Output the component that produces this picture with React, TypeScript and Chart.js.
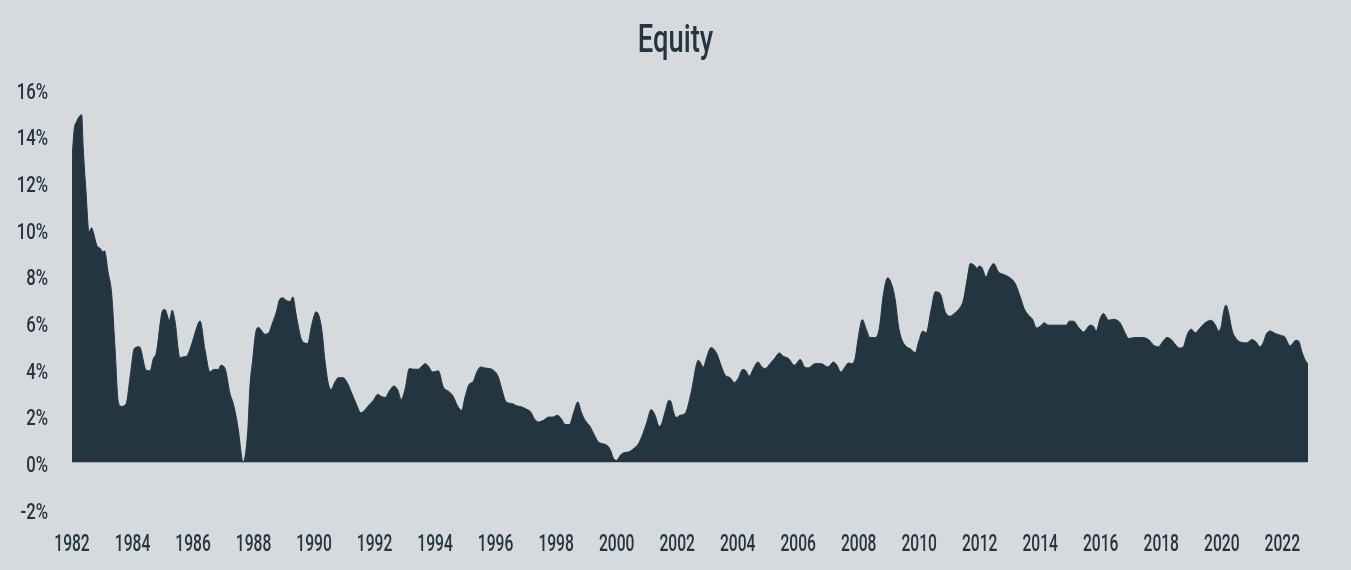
import { useEffect, useRef } from "react"
import { Chart, registerables } from "chart.js"
import type { Plugin } from "chart.js"

Chart.register(...registerables)

const TITLE = "Equity"
const BG = "#d6dadd"
const NAVY = "#233541"
const FONT = "Roboto, 'DejaVu Sans', sans-serif"

// x positions as decimal years
const dates = [
  1982.0, 1982.07, 1982.15, 1982.32, 1982.37, 1982.46, 1982.56, 1982.65, 1982.7, 1982.82,
  1982.93, 1983.03, 1983.07, 1983.2, 1983.31, 1983.42, 1983.53, 1983.64, 1983.79, 1983.92,
  1984.06, 1984.23, 1984.45, 1984.58, 1984.69, 1984.78, 1985.0, 1985.07, 1985.22, 1985.31,
  1985.4, 1985.57, 1985.68, 1985.79, 1985.96, 1986.1, 1986.23, 1986.4, 1986.56, 1986.67,
  1986.84, 1986.92, 1987.06, 1987.22, 1987.33, 1987.5, 1987.58, 1987.65, 1987.81, 1987.88,
  1987.97, 1988.07, 1988.16, 1988.38, 1988.52, 1988.6, 1988.77, 1988.85, 1988.96, 1989.1,
  1989.21, 1989.3, 1989.41, 1989.57, 1989.68, 1989.79, 1989.92, 1990.07, 1990.25, 1990.36,
  1990.47, 1990.56, 1990.69, 1990.8, 1990.97, 1991.11, 1991.25, 1991.39, 1991.55, 1991.69,
  1991.83, 1991.96, 1992.11, 1992.21, 1992.35, 1992.49, 1992.64, 1992.77, 1992.88, 1993.01,
  1993.15, 1993.28, 1993.45, 1993.56, 1993.67, 1993.78, 1993.92, 1994.11, 1994.27, 1994.44,
  1994.58, 1994.75, 1994.88, 1994.99, 1995.13, 1995.25, 1995.38, 1995.51, 1995.65, 1995.8,
  1995.93, 1996.09, 1996.2, 1996.35, 1996.54, 1996.7, 1996.87, 1997.03, 1997.16, 1997.28,
  1997.41, 1997.58, 1997.75, 1997.89, 1998.04, 1998.17, 1998.3, 1998.44, 1998.57, 1998.72,
  1998.83, 1998.96, 1999.12, 1999.27, 1999.4, 1999.54, 1999.68, 1999.79, 1999.9, 2000.01,
  2000.12, 2000.26, 2000.39, 2000.56, 2000.72, 2000.87, 2001.0, 2001.14, 2001.27, 2001.41,
  2001.49, 2001.6, 2001.73, 2001.8, 2001.88, 2001.97, 2002.1, 2002.26, 2002.43, 2002.54,
  2002.62, 2002.7, 2002.87, 2002.98, 2003.12, 2003.31, 2003.45, 2003.59, 2003.75, 2003.89,
  2004.03, 2004.16, 2004.25, 2004.39, 2004.52, 2004.67, 2004.8, 2004.91, 2005.07, 2005.22,
  2005.38, 2005.51, 2005.68, 2005.88, 2006.07, 2006.21, 2006.34, 2006.56, 2006.76, 2006.98,
  2007.17, 2007.28, 2007.41, 2007.55, 2007.66, 2007.77, 2007.88, 2007.99, 2008.12, 2008.24,
  2008.38, 2008.55, 2008.68, 2008.82, 2008.96, 2009.1, 2009.21, 2009.32, 2009.43, 2009.59,
  2009.72, 2009.87, 2009.98, 2010.12, 2010.23, 2010.39, 2010.53, 2010.69, 2010.86, 2011.02,
  2011.13, 2011.3, 2011.46, 2011.58, 2011.69, 2011.82, 2011.91, 2011.98, 2012.07, 2012.21,
  2012.32, 2012.46, 2012.62, 2012.79, 2012.95, 2013.17, 2013.34, 2013.47, 2013.61, 2013.75,
  2013.87, 2014.0, 2014.13, 2014.27, 2014.55, 2014.86, 2014.96, 2015.1, 2015.27, 2015.43,
  2015.65, 2015.76, 2015.85, 2015.98, 2016.09, 2016.26, 2016.42, 2016.64, 2016.79, 2016.92,
  2017.14, 2017.36, 2017.58, 2017.75, 2017.91, 2018.04, 2018.19, 2018.33, 2018.46, 2018.6,
  2018.74, 2018.85, 2018.99, 2019.12, 2019.27, 2019.45, 2019.65, 2019.79, 2019.9, 2019.98,
  2020.06, 2020.14, 2020.22, 2020.34, 2020.47, 2020.61, 2020.83, 2020.99, 2021.13, 2021.27,
  2021.38, 2021.47, 2021.6, 2021.77, 2021.93, 2022.08, 2022.26, 2022.45, 2022.54, 2022.65,
  2022.76, 2022.85,
]

// equity value in percent, same order as dates
const equityPct = [
  13.0, 14.24, 14.6, 14.9, 13.5, 11.67, 9.88, 10.05, 9.88, 9.3,
  9.17, 9.02, 9.07, 8.1, 7.24, 4.95, 2.59, 2.4, 2.52, 3.66,
  4.88, 4.95, 3.95, 3.92, 4.45, 4.66, 6.52, 6.55, 6.09, 6.52,
  6.09, 4.48, 4.52, 4.55, 5.09, 5.69, 6.06, 4.8, 3.87, 3.98,
  3.98, 4.16, 4.02, 2.95, 2.52, 1.37, 0.51, 0.0, 1.37, 3.23,
  4.38, 5.55, 5.78, 5.49, 5.59, 5.88, 6.52, 6.95, 7.05, 6.92,
  6.9, 7.09, 6.31, 5.31, 5.12, 5.09, 5.88, 6.45, 5.74, 4.38,
  3.38, 3.12, 3.44, 3.63, 3.62, 3.38, 2.95, 2.52, 2.12, 2.26,
  2.48, 2.66, 2.92, 2.83, 2.78, 3.06, 3.27, 3.09, 2.69, 3.16,
  4.02, 3.99, 3.99, 4.12, 4.23, 4.12, 3.87, 3.92, 3.23, 3.05,
  2.87, 2.4, 2.23, 2.8, 3.35, 3.44, 3.87, 4.09, 4.04, 4.02,
  3.95, 3.66, 3.16, 2.59, 2.52, 2.42, 2.37, 2.27, 2.16, 1.87,
  1.73, 1.8, 1.94, 1.94, 2.02, 1.87, 1.62, 1.62, 2.09, 2.59,
  2.16, 1.8, 1.54, 1.16, 0.87, 0.8, 0.73, 0.54, 0.16, 0.09,
  0.3, 0.42, 0.44, 0.59, 0.8, 1.23, 1.73, 2.26, 2.02, 1.54,
  1.66, 2.16, 2.66, 2.59, 2.16, 1.92, 2.02, 2.09, 2.8, 3.52,
  4.1, 4.38, 4.09, 4.52, 4.92, 4.66, 4.16, 3.73, 3.63, 3.42,
  3.63, 3.98, 3.95, 3.7, 4.02, 4.3, 4.09, 4.02, 4.23, 4.45,
  4.69, 4.55, 4.45, 4.16, 4.41, 4.09, 4.05, 4.23, 4.23, 4.09,
  4.3, 4.16, 3.87, 4.09, 4.26, 4.23, 4.45, 5.38, 6.12, 5.74,
  5.35, 5.35, 5.74, 7.24, 7.91, 7.59, 6.95, 5.81, 5.25, 4.95,
  4.85, 4.7, 5.16, 5.63, 5.55, 6.52, 7.31, 7.24, 6.45, 6.26,
  6.35, 6.55, 6.95, 7.81, 8.52, 8.45, 8.31, 8.41, 8.35, 7.95,
  8.27, 8.52, 8.16, 8.05, 7.95, 7.67, 7.09, 6.59, 6.31, 6.12,
  5.76, 5.83, 5.98, 5.88, 5.88, 5.88, 6.05, 6.05, 5.78, 5.59,
  5.88, 5.83, 5.63, 6.16, 6.38, 6.09, 6.13, 5.98, 5.59, 5.31,
  5.35, 5.35, 5.26, 5.02, 4.95, 5.16, 5.35, 5.26, 5.06, 4.9,
  4.98, 5.45, 5.71, 5.55, 5.74, 5.98, 6.09, 5.88, 5.63, 5.81,
  6.45, 6.74, 6.45, 5.66, 5.31, 5.16, 5.12, 5.26, 5.16, 4.95,
  5.16, 5.49, 5.63, 5.52, 5.45, 5.38, 4.99, 5.23, 5.2, 4.73,
  4.38, 4.23,
]

const yearTicks = [
  1982, 1984, 1986, 1988, 1990, 1992, 1994, 1996, 1998, 2000, 2002,
  2004, 2006, 2008, 2010, 2012, 2014, 2016, 2018, 2020, 2022,
]

// no condensed face is installed, so squeeze the text horizontally
function drawNarrow(ctx: CanvasRenderingContext2D, text: string, x: number, y: number, squeeze: number) {
  ctx.save()
  ctx.translate(x, y)
  ctx.scale(squeeze, 1)
  ctx.fillText(text, 0, 0)
  ctx.restore()
}

const narrowLabels: Plugin<"line"> = {
  id: "narrowLabels",
  afterDraw(chart) {
    const { ctx } = chart
    const xScale = chart.scales.x
    const yScale = chart.scales.y
    ctx.save()
    ctx.fillStyle = NAVY
    ctx.textBaseline = "middle"

    // title
    ctx.font = `500 38px ${FONT}`
    ctx.textAlign = "center"
    drawNarrow(ctx, TITLE, chart.width / 2, 42, 0.72)

    // y axis ticks
    ctx.font = `500 22px ${FONT}`
    ctx.textAlign = "right"
    yScale.ticks.forEach((t) => {
      drawNarrow(ctx, `${t.value}%`, yScale.right - 24, yScale.getPixelForValue(t.value) + 4, 0.76)
    })

    // x axis ticks
    ctx.font = `500 24px ${FONT}`
    ctx.textAlign = "center"
    yearTicks.forEach((yr) => {
      drawNarrow(ctx, String(yr), xScale.getPixelForValue(yr), xScale.top + 36, 0.65)
    })
    ctx.restore()
  },
}

export default function App() {
  const chartRef = useRef<HTMLCanvasElement>(null)
  const chartInstance = useRef<Chart | null>(null)

  useEffect(() => {
    if (!chartRef.current) return
    if (chartInstance.current) chartInstance.current.destroy()

    document.body.style.margin = "0"
    document.body.style.background = BG

    const ctx = chartRef.current.getContext("2d")
    if (!ctx) return

    const points = dates.map((d, i) => ({ x: d, y: equityPct[i] }))

    chartInstance.current = new Chart(ctx, {
      type: "line",
      data: {
        datasets: [
          {
            label: TITLE,
            data: points,
            borderColor: NAVY,
            backgroundColor: NAVY,
            borderWidth: 1,
            pointRadius: 0,
            cubicInterpolationMode: "monotone",
            fill: "origin",
          },
        ],
      },
      plugins: [narrowLabels],
      options: {
        animation: false,
        responsive: false,
        maintainAspectRatio: false,
        layout: {
          padding: { left: 0, right: 43, top: 89, bottom: 0 },
        },
        plugins: {
          legend: { display: false },
          tooltip: { enabled: false },
          title: { display: false },
        },
        scales: {
          x: {
            type: "linear",
            min: 1982,
            max: dates[dates.length - 1],
            afterFit: (scale) => {
              scale.height = 61
            },
            grid: { display: false, drawTicks: false },
            border: { display: false },
            ticks: { display: false },
          },
          y: {
            min: -2,
            max: 16,
            afterFit: (scale) => {
              scale.width = 72
            },
            grid: { display: false, drawTicks: false },
            border: { display: false },
            ticks: { display: false, stepSize: 2 },
          },
        },
      },
    })

    return () => {
      if (chartInstance.current) {
        chartInstance.current.destroy()
        chartInstance.current = null
      }
    }
  }, [])

  return (
    <div style={{ width: 1351, height: 570, background: BG }}>
      <canvas ref={chartRef} width={1351} height={570} aria-label="Equity chart"></canvas>
    </div>
  )
}
